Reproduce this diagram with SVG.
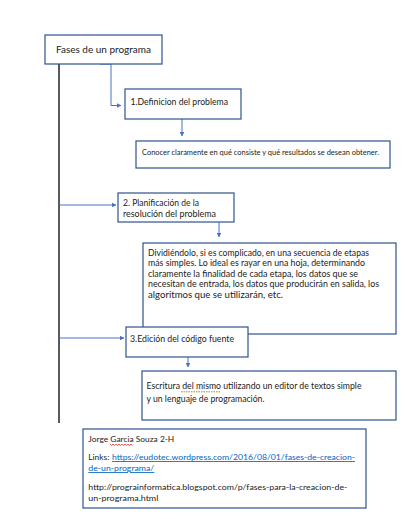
<svg xmlns="http://www.w3.org/2000/svg" width="405" height="519" viewBox="0 0 405 519">
<defs>
<marker id="ah" viewBox="0 0 6 6" refX="5.5" refY="3" markerWidth="4.5" markerHeight="4.5" orient="auto" markerUnits="userSpaceOnUse">
<path d="M0,0 L6,3 L0,6 z" fill="#4472C4"/>
</marker>
<style>
.box{fill:#fff;stroke:#2F528F;stroke-width:1.2}
.t{font-family:Lato,"Liberation Sans",sans-serif;fill:#222;font-size:8.6px}
.h{font-size:10.2px}
.s{font-size:7.6px}
.d{font-size:8.8px}
.j{font-size:8.4px}
.c{fill:none;stroke:#4472C4;stroke-width:1}
.lnk{fill:#0563C1;text-decoration:underline}
</style>
</defs>
<rect width="405" height="519" fill="#fff"/>
<g id="connectors">
<line x1="59" y1="64" x2="59" y2="423" stroke="#222" stroke-width="1.5"/>
<path class="c" d="M100,64 H111 V105.5 H121" marker-end="url(#ah)"/>
<path class="c" d="M182,119 V136" marker-end="url(#ah)"/>
<path class="c" d="M59,205 H116" marker-end="url(#ah)"/>
<path class="c" d="M219,222 V237" marker-end="url(#ah)"/>
<path class="c" d="M59,338 H124" marker-end="url(#ah)"/>
<path class="c" d="M188,357 V367" marker-end="url(#ah)"/>
</g>
<g id="fases">
<rect class="box" x="45" y="35" width="117" height="29"/>
<text class="t h" x="56" y="52.5" textLength="95" lengthAdjust="spacingAndGlyphs">Fases de un programa</text>
</g>
<g id="paso1">
<rect class="box" x="125" y="89" width="116" height="30"/>
<text class="t" x="130.5" y="104.5" textLength="97.5" lengthAdjust="spacingAndGlyphs">1.Definicion del problema</text>
</g>
<g id="conocer">
<rect class="box" x="136" y="141" width="254" height="27"/>
<text class="t s" x="142" y="154.5" textLength="237" lengthAdjust="spacingAndGlyphs">Conocer claramente en qué consiste y qué resultados se desean obtener.</text>
</g>
<g id="paso2">
<rect class="box" x="118" y="193" width="116" height="29"/>
<text class="t" x="123" y="205.5" textLength="76" lengthAdjust="spacingAndGlyphs">2. Planificación de la</text>
<text class="t" x="123" y="217" textLength="93" lengthAdjust="spacingAndGlyphs">resolución del problema</text>
</g>
<g id="dividiendo">
<rect class="box" x="143" y="243" width="253" height="91"/>
<text class="t d" x="148" y="255.7" textLength="221" lengthAdjust="spacingAndGlyphs">Dividiéndolo, si es complicado, en una secuencia de etapas</text>
<text class="t d" x="148" y="266.3" textLength="217" lengthAdjust="spacingAndGlyphs">más simples. Lo ideal es rayar en una hoja, determinando</text>
<text class="t d" x="148" y="276.8" textLength="210" lengthAdjust="spacingAndGlyphs">claramente la finalidad de cada etapa, los datos que se</text>
<text class="t d" x="148" y="287.3" textLength="231" lengthAdjust="spacingAndGlyphs">necesitan de entrada, los datos que producirán en salida, los</text>
<text class="t d" x="148" y="298" textLength="135" lengthAdjust="spacingAndGlyphs">algoritmos que se utilizarán, etc.</text>
</g>
<g id="paso3">
<rect class="box" x="126" y="327" width="122" height="30"/>
<text class="t" x="130" y="342" textLength="104" lengthAdjust="spacingAndGlyphs">3.Edición del código fuente</text>
</g>
<g id="escritura">
<rect class="box" x="142" y="371" width="254" height="49"/>
<text class="t d" x="146.5" y="389" textLength="215" lengthAdjust="spacingAndGlyphs">Escritura del mismo utilizando un editor de textos simple</text>
<text class="t d" x="146.5" y="402" textLength="118" lengthAdjust="spacingAndGlyphs">y un lenguaje de programación.</text>
<line x1="181" y1="391.8" x2="221" y2="391.8" stroke="#B8860B" stroke-width="1" stroke-dasharray="1.5,1"/>
</g>
<g id="autor">
<rect class="box" x="83" y="429" width="283" height="79"/>
<text class="t j" x="88.3" y="442" textLength="86" lengthAdjust="spacingAndGlyphs">Jorge Garcia Souza 2-H</text>
<path d="M110,444.2 l1.5,1.2 l1.5,-1.2 l1.5,1.2 l1.5,-1.2 l1.5,1.2 l1.5,-1.2 l1.5,1.2 l1.5,-1.2 l1.5,1.2 l1.5,-1.2 l1.5,1.2 l1.5,-1.2 l1.5,1.2 l1.5,-1.2 l1.5,1.2" fill="none" stroke="#E00" stroke-width="0.7"/>
<text class="t j" x="88.3" y="460" textLength="21" lengthAdjust="spacingAndGlyphs">Links:</text>
<text class="t j lnk" x="112" y="460" textLength="243" lengthAdjust="spacingAndGlyphs">https://eudotec.wordpress.com/2016/08/01/fases-de-creacion-</text>
<text class="t j lnk" x="88.3" y="471" textLength="66" lengthAdjust="spacingAndGlyphs">de-un-programa/</text>
<text class="t j" x="88.3" y="490" textLength="259" lengthAdjust="spacingAndGlyphs">http://prograinformatica.blogspot.com/p/fases-para-la-creacion-de-</text>
<text class="t j" x="88.3" y="501" textLength="70" lengthAdjust="spacingAndGlyphs">un-programa.html</text>
</g>
</svg>
